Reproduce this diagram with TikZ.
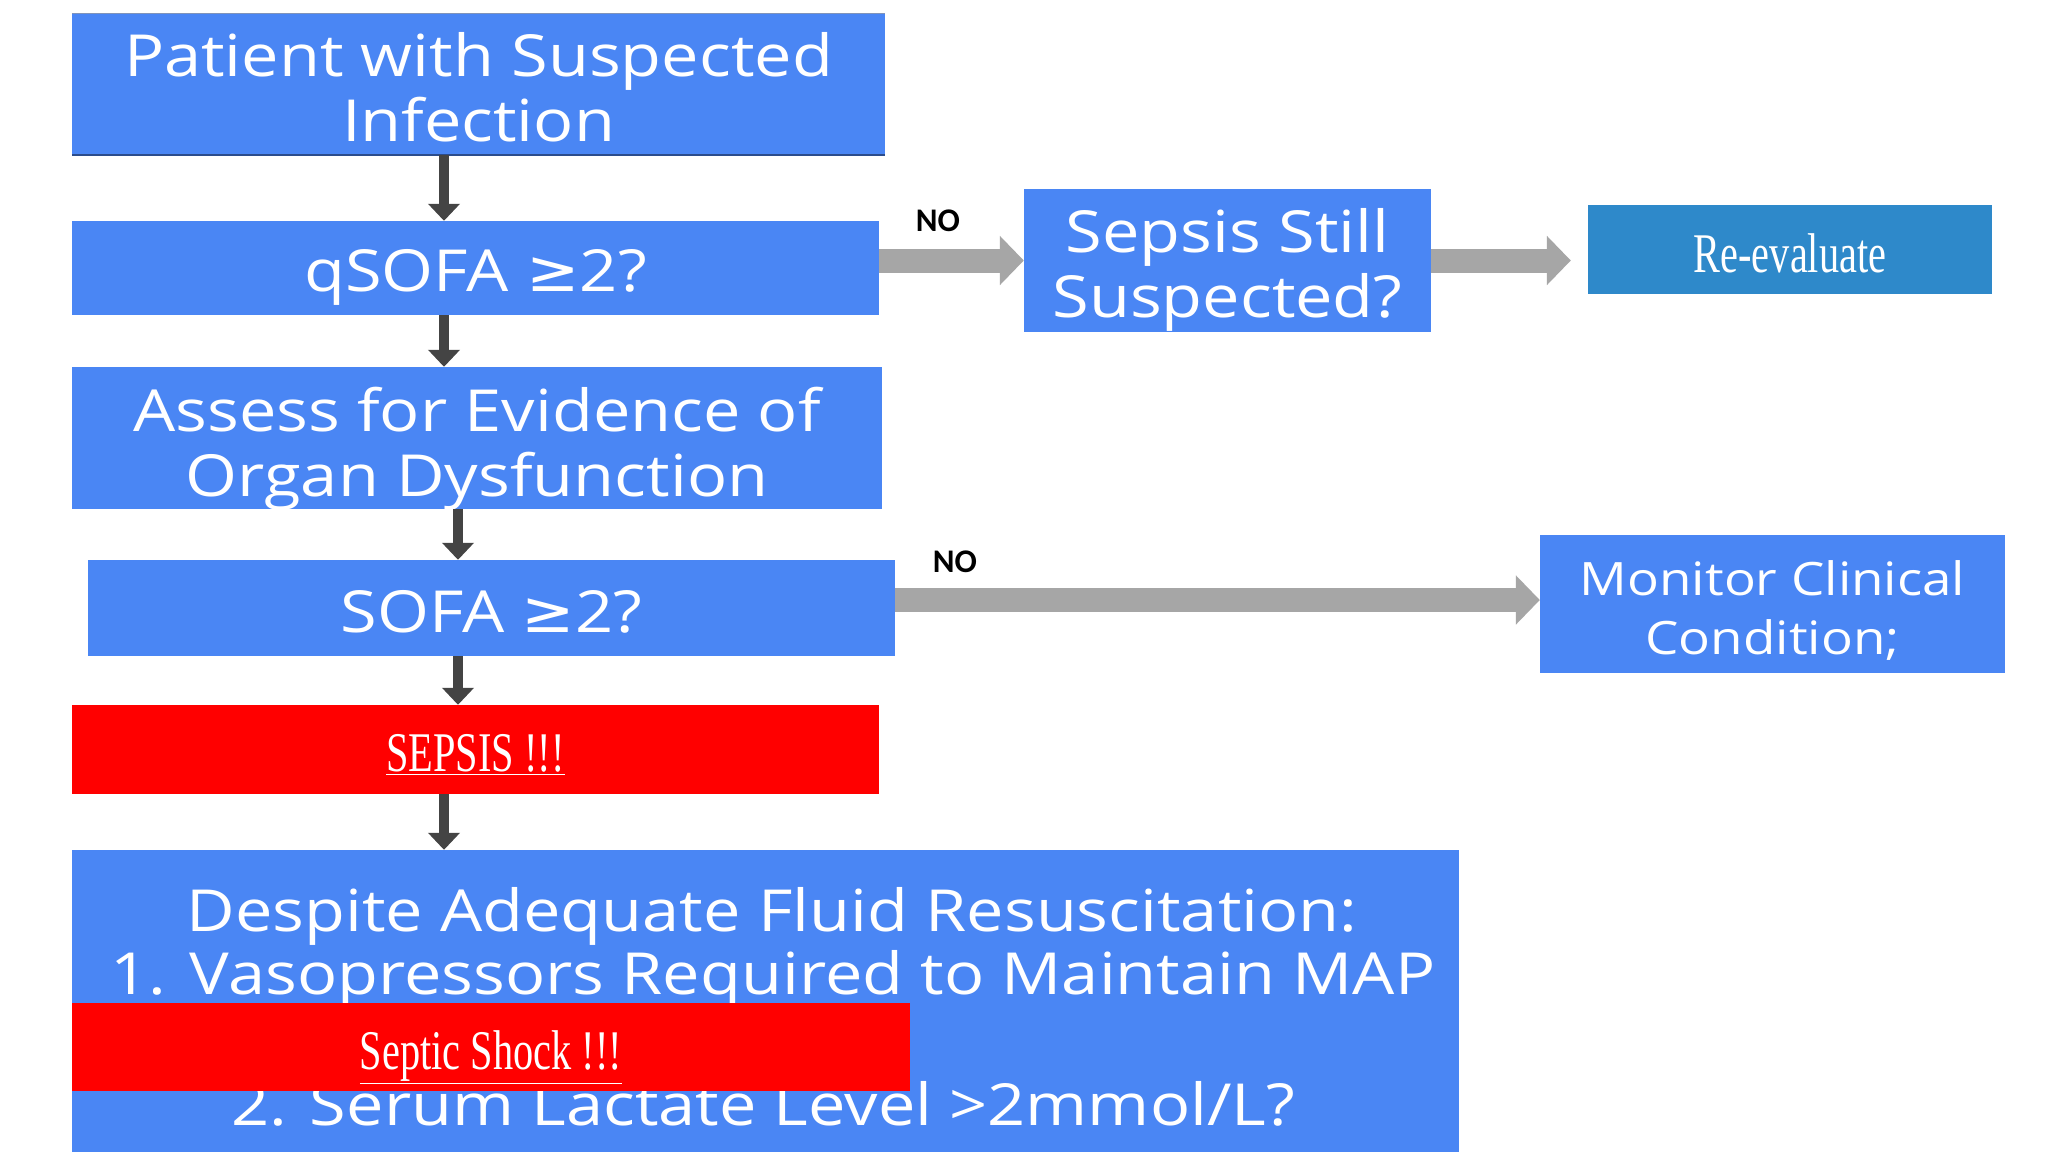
\documentclass[tikz,border=0pt]{standalone}
\usepackage{fontspec}
\setmainfont{Open Sans}[FakeStretch=1.15]
\newfontfamily\condfont[FakeStretch=0.72]{Liberation Serif}
\newfontfamily\nofont{Carlito}
\newfontfamily\symfont[FakeStretch=1.1]{DejaVu Sans}
\usetikzlibrary{arrows.meta}
\definecolor{boxblue}{HTML}{4A86F4}
\definecolor{tealblue}{HTML}{2E89CA}
\definecolor{alertred}{HTML}{FF0000}
\definecolor{darkarrow}{HTML}{444444}
\definecolor{grayarrow}{HTML}{A6A6A6}
\definecolor{navy}{HTML}{2B4C8C}
\tikzset{
  hand/.style={font=\fontsize{58}{65}\selectfont, text=white, align=center, inner sep=0pt},
  smallhand/.style={font=\fontsize{46}{59}\selectfont, text=white, align=center, inner sep=0pt},
  condtext/.style={text=white, font=\condfont\fontsize{56}{60}\selectfont, inner sep=0pt},
  bluebox/.style={fill=boxblue, inner sep=0pt},
  redbox/.style={fill=alertred, inner sep=0pt},
  tealbox/.style={fill=tealblue, inner sep=0pt},
  nolabel/.style={font=\nofont\bfseries\fontsize{33}{36}\selectfont, text=black, inner sep=0pt},
  darr/.style={draw=darkarrow, line width=10pt, -{Triangle[length=17pt,width=31pt]}},
  garr/.style={draw=grayarrow, line width=24pt, -{Triangle[length=24pt,width=48pt]}},
}
\begin{document}
\begin{tikzpicture}[x=1pt,y=-1pt]
\useasboundingbox (0,0) rectangle (2048,1152);
\fill[white] (0,0) rectangle (2048,1152);

% left column
\node[bluebox, minimum width=813pt, minimum height=141pt] (b1) at (478.5,84.5) {};
\node[hand] (b1t) at ([yshift=-3pt]b1.center) {Patient with Suspected\\Infection};
\draw[navy, line width=2.5pt] (b1.south west) -- (b1.south east);
\draw[navy!60, line width=1pt] (b1.north west) -- (b1.north east);

\node[bluebox, minimum width=807pt, minimum height=94pt] (b2) at (475.5,268) {};
\node[hand] (b2t) at ([yshift=-9pt]b2.center) {qSOFA {\symfont ≥}2?};

\node[bluebox, minimum width=810pt, minimum height=142pt] (b3) at (477,438) {};
\node[hand] (b3t) at ([yshift=-11pt]b3.center) {Assess for Evidence of\\Organ Dysfunction};

\node[bluebox, minimum width=807pt, minimum height=96pt] (b4) at (491.5,608) {};
\node[hand] (b4t) at ([yshift=-4pt]b4.center) {SOFA {\symfont ≥}2?};

\node[redbox, minimum width=807pt, minimum height=89pt] (b5) at (475.5,749.5) {};
\node[condtext] (b5t) at ([yshift=-5pt]b5.center) {\underline{SEPSIS !!!}};

% big box
\node[bluebox, minimum width=1387pt, minimum height=302pt] (b6) at (765.5,1001) {};
\node[hand] (t61) at (772,916) {Despite Adequate Fluid Resuscitation:};
\node[hand] (t62) at (773,979) {1. Vasopressors Required to Maintain MAP};
\node[hand] (t63) at (763,1104) {2. Serum Lactate Level >2mmol/L?};
\node[redbox, minimum width=838pt, minimum height=88pt] (b7) at (491,1047) {};
\node[condtext] (b7t) at ([yshift=-10pt]b7.center) {\underline{Septic Shock !!!}};

% right side
\node[bluebox, minimum width=407pt, minimum height=143pt] (b8) at (1227.5,260.5) {};
\node[hand] (b8t) at ([yshift=-9pt]b8.center) {Sepsis Still\\Suspected?};

\node[tealbox, minimum width=404pt, minimum height=89pt] (b9) at (1790,249.5) {};
\node[condtext] (b9t) at ([yshift=-4pt]b9.center) {Re-evaluate};

\node[bluebox, minimum width=465pt, minimum height=138pt] (b10) at (1772.5,604) {};
\node[smallhand] (b10t) at ([yshift=-6pt]b10.center) {Monitor Clinical\\Condition;};

\node[nolabel] (no1) at (938,221) {NO};
\node[nolabel] (no2) at (955,562) {NO};

% dark arrows
\draw[darr] ([xshift=-34.5pt]b1.south) -- ([xshift=-34.5pt]b1.south |- b2.north);
\draw[darr] ([xshift=-31.5pt]b2.south) -- ([xshift=-31.5pt]b2.south |- b3.north);
\draw[darr] ([xshift=-19pt]b3.south) -- ([xshift=-19pt]b3.south |- b4.north);
\draw[darr] ([xshift=-33.5pt]b4.south) -- ([xshift=-33.5pt]b4.south |- b5.north);
\draw[darr] ([xshift=-31.5pt]b5.south) -- ([xshift=-31.5pt]b5.south |- b6.north);

% gray arrows
\draw[garr] (b2.east |- b8.west) -- (b8.west);
\draw[garr, shorten >=17pt] (b8.east) -- (b8.east -| b9.west);
\draw[garr] ([yshift=4pt]b4.east |- b10.west) -- ([yshift=4pt]b10.west);
\end{tikzpicture}
\end{document}
